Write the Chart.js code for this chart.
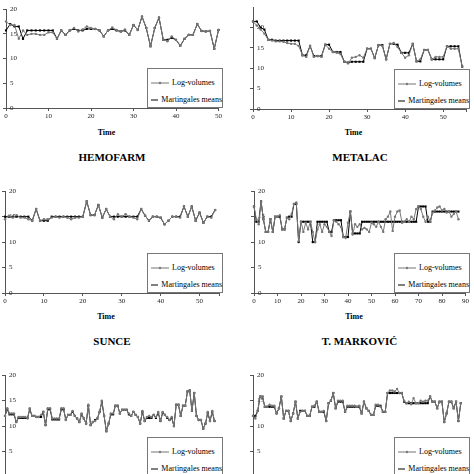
<!DOCTYPE html>
<html><head><meta charset="utf-8">
<script src="https://cdn.jsdelivr.net/npm/chart.js@4.4.0/dist/chart.umd.min.js"></script>
<style>
body{margin:0;width:474px;height:474px;overflow:hidden;background:#fff;position:relative;font-family:"Liberation Serif",serif}
.t{position:absolute;font-weight:bold;font-size:11px;transform:translateX(-50%);white-space:nowrap}
.x{position:absolute;font-weight:bold;font-size:8px;transform:translateX(-50%)}
.lg{position:absolute;border:1px solid #777;background:#fff;font-size:8px;box-sizing:border-box;padding:5px 0 0 3px}
.lg div{height:17px;display:flex;align-items:center;gap:3px;white-space:nowrap}
</style></head><body>
<script>
const tl_log=[17.5,16.8,16.8,14,15.7,14.8,15,15,14.8,14.8,15.3,15.3,14,15.7,14.8,15.7,16.2,15.5,15.9,16.5,16.2,16,15.7,14.5,15.7,16.3,15.8,15.5,15.9,14.8,16.8,15.8,18.5,16.2,12.5,16.2,18.3,13.8,13.5,14.5,13.8,12.6,14,14.8,14.8,17,15.6,15.5,15.6,12,15.8];
const tl_mart=[15.7,17,16.5,16.5,14,15.7,15.7,15.7,15.7,15.7,15.7,15.7,14,15.7,14.8,15.7,16,15.7,15.7,16,16,16,15.7,14.5,15.7,16,15.7,15.5,15.7,14.8,16.8,15.8,18.5,16.2,12.5,16.2,18.3,13.8,13.8,14.2,13.8,12.6,14,14.8,14.8,17,15.6,15.5,15.6,12,15.8];
const tr_log=[21.5,20.5,19.5,18.5,17,16.8,16.6,16.6,16.5,16.2,16,16,15.5,13.2,12.8,15.5,12.8,13,12.8,15.8,14.8,14,13.8,13.5,11.6,11.2,12.6,12.8,13.2,12.6,14.8,14.8,12.5,15.7,15.5,12.2,16,16.2,15.2,13.8,12.6,13.2,16,11.7,12.2,14.5,14.5,12.2,12.8,12.8,12.8,15.4,14.8,14.8,14.8,10.4];
const tr_mart=[21.5,21.5,20,19.5,17,17,16.8,16.8,16.8,16.8,16.8,16.8,16.8,13.2,13.2,15.5,13,13,13,15.8,15.8,14,14,14,11.6,11.4,11.6,11.6,11.6,11.6,14.8,14.8,12.5,15.7,15.7,12.2,16,16,15.8,13.8,13.8,13.8,16,11.7,11.7,14.5,14.5,12.2,12.2,12.2,12.2,15.4,15.4,15.4,15.4,10.4];
const hemo_log=[14.5,15.2,14.8,15.3,14.8,14.8,14.5,14.2,16.5,14.2,14.5,14.5,14.8,15,14.8,15,14.8,14.5,14.8,14.8,15,18,15.3,15.3,17.3,14.8,16.5,15,14.5,15.5,15,15.5,15,14.8,14.5,16.5,15.2,14.2,15,15,14.8,13.5,14.2,15,15,14.8,17,15,17,14.2,15.8,13.8,15,14.8,16.3];
const hemo_mart=[15,15,15,15,15,15,15,14.2,16.5,14.2,14.2,14.2,15,15,15,15,15,15,15,15,15,18,15.3,15.3,17.3,14.8,16.5,15,15,15,15,15,15,15,15,16.5,15.2,14.2,15,15,14.8,13.5,14.2,15,15,15,17,15,17,14.2,15.8,13.8,15,15,16.3];
const meta_log=[17,14.5,13.5,18,14.5,12,12,14.5,12,15,15,15.3,12.5,12.5,14.8,14.5,15.5,17.5,17.8,10.2,14,12,13.8,12.5,14,12,10,12.5,13.5,12,13.5,13,12,11.2,14.3,14,13.5,13,11,10.8,13.8,16,11.5,13.5,13,13.5,12.5,12.8,12.5,12,13.8,13.5,13,14,13,12,14.5,15,16,12.2,15,16,16.2,13.8,14,14.5,14,15,14.5,16.5,17,16.5,15,14,15,14,15.8,16.2,16.8,17,16.2,16.5,15.8,16,15,15.5,16,14.5];
const meta_mart=[17,14,14,18,14.5,12,12,14.5,12,15,15,15,12.5,12.5,14.8,15,15,17.5,17.5,10,14,14,14,14,14,10,10,14,14,14,14,14,12,12,14.3,14.3,14.3,14.3,11,11,11,16,11.7,11.7,11.7,11.7,14,14,14,14,14,14,14,14,14,14,14,14,14,14,14,14,14,14,14,14,14,14,14,14,17,17,17,17,14,14,16,16,16,16,16,16,16,16,16,16,16,16];
const sun_log=[12,13.5,12.5,12.5,12.5,10.8,11.8,11.8,11.8,11.8,11.5,13.5,12,12,11.8,11.8,12.2,12.8,10.2,13.5,13.5,11.5,11.5,11.5,11.5,13.5,13.5,11.2,12.2,12.2,13,12,11.5,10.8,12.5,11.5,10.5,14.2,10.2,10.8,11,11.5,12.8,15,12,9,10.5,12.5,12.5,14,14,12.5,13.2,13.2,13.2,12.5,12,12.8,12.2,11.8,10.5,13,11,11.8,12,11.8,12.2,11.8,12.8,11,12.8,12.2,11.8,11.2,11.8,10,14.2,14.2,12,14,14,16.8,17,13,16.5,12,11.2,11.2,9.5,10.5,12.8,11,13,11];
const sun_mart=[12,13.3,12.3,12.3,12.3,10.8,11.6,11.6,11.6,11.6,11.6,13.3,12,12,11.8,11.8,11.8,12.8,10.2,13.3,13.3,11.3,11.3,11.3,11.3,13.3,13.3,11.3,12.2,12.2,12.8,12,11.5,10.8,12.3,11.5,10.5,14,10.2,10.8,11.2,11.5,12.8,14.8,12,9,10.5,12.3,12.3,14,14,12.5,13.2,13.2,13.2,12.3,12,12.8,12.2,11.8,10.5,12.8,11,11.6,11.6,11.6,12.2,11.6,12.6,11,12.6,12.2,11.6,11.2,11.6,10,14.2,14.2,12,14,14,16.8,17,13,16.5,12,11.2,11.2,9.5,10.5,12.6,11,12.8,11];
const mk_log=[12,11.5,13,15.8,15.8,13.8,13.8,14.2,14,14,12.5,13.5,15.8,11.5,13,13,11,12.5,14.8,11.5,12.8,13,13,12,12,13.8,14,14.8,12.8,12.8,13,11,14.5,15,16.5,13.5,15,15,15,12.8,14,14,14,14,13.8,14,12.5,14.8,13.5,13,12.2,12.2,14.2,14.2,13.8,12.8,12.8,16.5,17,17,16.8,17.3,16.5,16.5,15,14.5,14.8,14.3,15.5,14.5,14.5,15,14.8,15,15,15.8,14.8,14.8,13.5,14.8,14.8,10.8,12.5,14.8,14.8,13.5,14.8,11,14.5];
const mk_mart=[12,12,13,15.8,15.8,13.8,13.8,13.8,13.8,13.8,12.5,13.5,15.8,11.5,13,13,11,12.5,14.8,11.5,13,13,13,12,12,13.8,13.8,14.8,12.8,12.8,12.8,11,14.5,15,16.5,13.5,14.8,14.8,14.8,12.8,13.8,13.8,13.8,13.8,13.8,13.8,12.5,14.8,13.5,13,12.2,12.2,14,14,14,12.8,12.8,16.5,16.5,16.5,16.5,16.5,16.5,16.5,14.8,14.5,14.5,14.5,14.5,14.5,14.5,14.5,14.5,14.5,14.5,15.8,14.8,14.8,13.5,14.8,14.8,10.8,12.5,14.8,14.8,13.5,14.8,11,14.5];
const yTicks=[0,5,10,15,20];
const legendLabels=["Log-volumes","Martingales means"];

const panels=[
 {log:tl_log,mart:tl_mart,l:2,r:223,t:1,b:108,ymax:20,xmax:50,time:133},
 {log:tr_log,mart:tr_mart,l:249,r:470,t:-1,b:109,ymax:25,xmax:56,time:133},
 {log:hemo_log,mart:hemo_mart,l:1,r:223,t:183,b:293,ymax:20,xmax:55,title:"HEMOFARM",time:317},
 {log:meta_log,mart:meta_mart,l:250,r:470,t:183,b:293,ymax:20,xmax:90,title:"METALAC",time:317},
 {log:sun_log,mart:sun_mart,l:1,r:223,t:367,b:477,ymax:20,xmax:95,title:"SUNCE"},
 {log:mk_log,mart:mk_mart,l:249,r:470,t:367,b:477,ymax:20,xmax:90,title:"T. MARKOVIĆ"}
];
const font={family:"Liberation Serif",size:7};
function sample(sq){return `<svg width="18" height="6"><line x1="0" y1="3" x2="18" y2="3" stroke="${sq?'#000':'#777'}" stroke-width="1"/>${sq?'<rect x="7.5" y="1.5" width="3" height="3" fill="#000"/>':'<circle cx="9" cy="3" r="1.2" fill="#777"/>'}</svg>`;}
panels.forEach(p=>{
  const XH=14;
  const w=p.r-p.l,h=p.b-p.t+XH;
  const d=document.createElement('div');d.style.cssText=`position:absolute;left:${p.l}px;top:${p.t}px;width:${w}px;height:${h}px`;
  const c=document.createElement('canvas');
  d.appendChild(c);document.body.appendChild(d);
  const mk=a=>a.map((v,i)=>({x:i,y:v}));
  new Chart(c,{type:'line',data:{datasets:[
    {label:legendLabels[0],data:mk(p.log),borderColor:'#777',borderWidth:1,pointRadius:1.2,pointBackgroundColor:'#777',pointBorderWidth:0,clip:false,tension:0},
    {label:legendLabels[1],data:mk(p.mart),borderColor:'#000',borderWidth:1,pointStyle:'rect',pointRadius:1.5,pointBackgroundColor:'#000',pointBorderWidth:0,clip:false,tension:0}
  ]},options:{responsive:true,maintainAspectRatio:false,animation:false,events:[],
    layout:{padding:0},
    plugins:{legend:{display:false},tooltip:{enabled:false}},
    scales:{
      x:{type:'linear',min:0,max:p.xmax,afterFit:s=>{s.height=XH},
         grid:{drawOnChartArea:false,tickLength:3,color:'#555'},border:{color:'#555'},
         ticks:{stepSize:10,font,color:'#222',padding:1,maxRotation:0,callback:v=>v%10===0?v:''}},
      y:{min:0,max:p.ymax,afterFit:s=>{s.width=0},afterBuildTicks:s=>{s.ticks=yTicks.map(v=>({value:v}))},
         grid:{drawOnChartArea:false,tickLength:3,color:'#555'},border:{color:'#555'},
         ticks:{mirror:true,font,color:'#222',padding:4}}
    }}});
  if(p.title){const t=document.createElement('div');t.className='t';t.textContent=p.title;t.style.left=((p.l+p.r)/2)+'px';t.style.top=(p.t-32)+'px';document.body.appendChild(t);}
  if(p.time){const t=document.createElement('div');t.className='x';t.textContent='Time';t.style.left=((p.l+p.r)/2-6)+'px';t.style.top=(p.time-5)+'px';document.body.appendChild(t);}
  const lg=document.createElement('div');lg.className='lg';
  const lw=76;
  lg.style.left=(p.r-lw)+'px';lg.style.top=(p.b-40)+'px';lg.style.width=lw+'px';lg.style.height='40px';
  lg.innerHTML=`<div>${sample(false)}<span>${legendLabels[0]}</span></div><div>${sample(true)}<span>${legendLabels[1]}</span></div>`;
  document.body.appendChild(lg);
});
</script>
</body></html>
